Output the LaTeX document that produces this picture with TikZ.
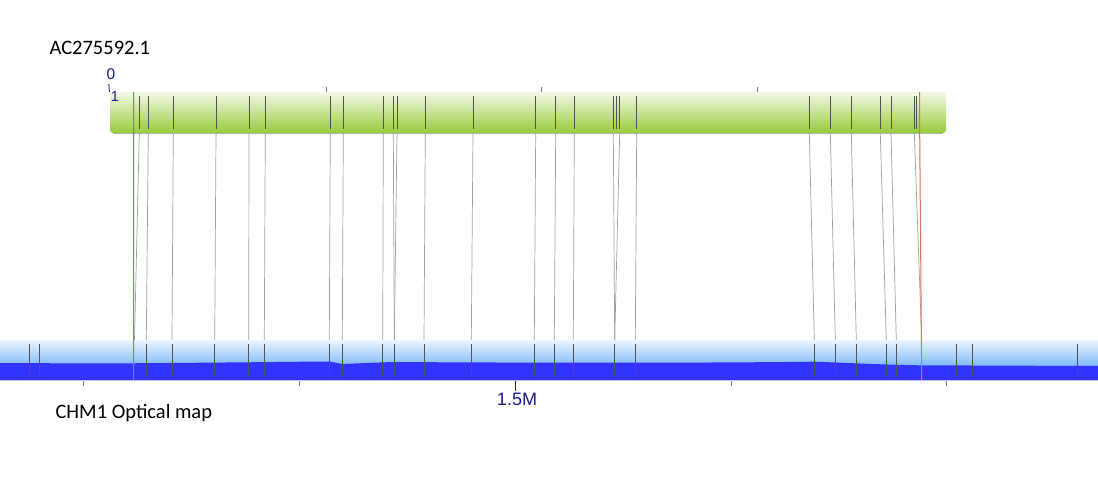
\documentclass[tikz,border=0pt]{standalone}
\usepackage{fontspec}
\setmainfont{Carlito}
\newfontfamily\rulerfont{Liberation Sans}
\definecolor{barlight}{RGB}{243,249,230}
\definecolor{barmid}{RGB}{200,228,140}
\definecolor{bargreen}{RGB}{152,203,58}
\definecolor{maplight}{RGB}{236,245,255}
\definecolor{mapmid}{RGB}{120,183,248}
\definecolor{mapdark}{RGB}{51,51,255}
\definecolor{rulerblue}{RGB}{26,26,140}
\definecolor{ticklight}{RGB}{110,110,200}
\definecolor{linkgreen}{RGB}{105,150,95}
\definecolor{linkred}{RGB}{228,112,84}

\begin{document}
\begin{tikzpicture}[x=1pt, y=-1pt,
  site/.style={draw=black!68, line width=0.8pt},
  link/.style={draw=black!38, line width=0.7pt},
  tick/.style={draw=ticklight, line width=0.8pt},
  title/.style={font=\fontsize{20.5}{24}\selectfont, anchor=base west},
  scalenum/.style={font=\rulerfont\fontsize{#1}{#1}\selectfont, text=rulerblue, inner sep=0pt}]
  \useasboundingbox (0,0) rectangle (1098,481);

  % Names
  \node[title] (contig) at (46, 55) {AC275592.1};
  \node[title] (optmap) at (52, 418.3) {CHM1 Optical map};

  % Contig bar (green)
  \shade[top color=barlight, middle color=barmid, bottom color=bargreen, rounded corners=3pt]
    (110, 92) rectangle (946, 133);
  \draw[black!30, line width=0.8pt] (113, 133) -- (943, 133);

  % Contig ruler
  \node[scalenum=15.5] (zero) at (111, 74.5) {0};
  \draw[draw=rulerblue, line width=0.9pt] (108.8, 84) -- (109.4, 92);
  \node[scalenum=14.5] (one) at (115, 96.5) {1};
  \foreach \x in {326, 541.7, 757.3}
    \draw[tick] (\x, 87) -- (\x, 92);

  % Optical map bar (blue)
  \shade[top color=maplight, bottom color=mapmid] (0, 340) rectangle (1098, 367);
  \fill[mapdark] (0, 363) -- (100, 363.5) .. controls (250, 362.5) and (310, 361.5) .. (330, 361.5)
    -- (342, 364) -- (392, 362) .. controls (560, 363) and (700, 363) .. (815, 361.7)
    .. controls (850, 363) and (880, 364.6) .. (920, 365.3) -- (1098, 366)
    -- (1098, 380) -- (0, 380) -- cycle;
  \draw[ticklight!45, line width=0.8pt] (0, 380.5) -- (1098, 380.5);

  % Optical map ruler
  \foreach \x in {83.3, 299.3, 731, 946.7}
    \draw[tick] (\x, 381) -- (\x, 386);
  \draw[draw=rulerblue, line width=0.8pt] (515, 381) -- (515, 391);
  \node[scalenum=18] (mid) at (517, 399) {1.5M};

  % Cut sites on the contig
  \foreach \x in {139.3, 148.3, 173.3, 216, 249, 265.3, 330.3, 343.3, 383.3, 393.3, 397,
                  425.3, 473, 535.7, 555.7, 574.3, 613.3, 616, 619.7, 636.7,
                  809.3, 830.3, 851.3, 880.3, 891, 914.3, 916.3}
    \draw[site] (\x, 96) -- (\x, 129);

  % Cut sites on the optical map
  \foreach \x in {29.7, 39.3, 146.3, 172, 214.7, 248.7, 264.3, 329.3, 342.3, 382.7, 394.3,
                  424, 471.3, 534.3, 554.3, 573.3, 614.7, 635.3,
                  814.3, 835.3, 856.3, 886.3, 896.3, 956.3, 972, 1077.3}
    \draw[site] (\x, 344) -- (\x, 377);

  % Alignment links (contig site / map site)
  \foreach \a/\b in {139.3/134.5, 148.3/146.3, 173.3/172, 216/214.7, 249/248.7, 265.3/264.3,
                     330.3/329.3, 343.3/342.3, 383.3/382.7, 393.3/394.3, 397/394.3, 425.3/424,
                     473/471.3, 535.7/534.3, 555.7/554.3, 574.3/573.3, 613.3/614.7, 619.7/614.7,
                     636.7/635.3, 809.3/814.3, 830.3/835.3, 851.3/856.3, 880.3/886.3,
                     891/896.3, 914.3/921.7}
    \draw[link] (\a, 133) -- (\b, 340);

  % Highlighted ends
  \draw[linkgreen, line width=1pt] (133.5, 92) -- (133.5, 133) -- (133.7, 380);
  \draw[linkred, line width=1pt] (919.7, 92) -- (919.7, 133) -- (921.7, 380);
\end{tikzpicture}
\end{document}
